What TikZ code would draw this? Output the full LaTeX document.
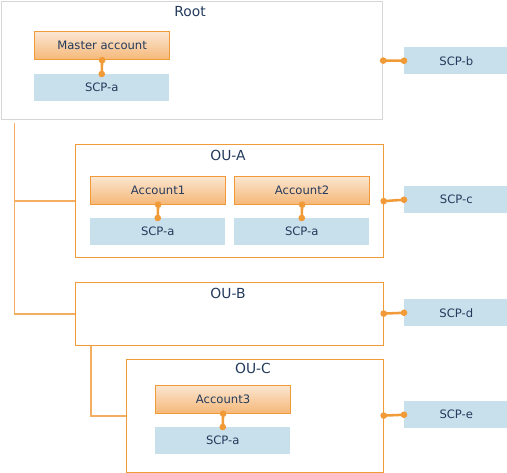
\documentclass[tikz,border=0pt]{standalone}
\usepackage{fontspec}
\setmainfont{DejaVu Sans}
\usetikzlibrary{calc}
\definecolor{og}{HTML}{F19B38}
\definecolor{ogtop}{HTML}{FBE6D2}
\definecolor{ogbot}{HTML}{F5B878}
\definecolor{scpblue}{HTML}{C8E0EC}
\definecolor{txt}{HTML}{233A5C}
\definecolor{graybd}{HTML}{D6D6D6}
\definecolor{treeog}{HTML}{F3AE62}
\tikzset{
  grp/.style={draw=og, line width=0.9pt, anchor=north west, inner sep=0pt},
  acct/.style={draw=og, line width=0.9pt, top color=ogtop, bottom color=ogbot, anchor=north west,
     minimum width=135*0.75pt, minimum height=28*0.75pt, inner sep=0pt, text=txt, font=\fontsize{8.7}{10}\selectfont},
  scp/.style={fill=scpblue, anchor=north west, minimum width=135*0.75pt, minimum height=27*0.75pt,
     inner sep=0pt, text=txt, font=\fontsize{8.7}{10}\selectfont},
  scpr/.style={scp, minimum width=104*0.75pt},
  ttl/.style={text=txt, font=\fontsize{10.4}{12}\selectfont, inner sep=0pt},
  link/.style={draw=og, line width=1.9pt},
  tree/.style={draw=treeog, line width=1.4pt},
  dot/.style={fill=og}
}
\begin{document}
\begin{tikzpicture}[x=0.75pt,y=-0.75pt]
\useasboundingbox (0,0) rectangle (507,472);
% groups
\node[grp, draw=graybd, minimum width=381*0.75pt, minimum height=118*0.75pt] (root) at (1,1) {};
\node[grp, minimum width=308*0.75pt, minimum height=113*0.75pt] (oua) at (74.5,144) {};
\node[grp, minimum width=308*0.75pt, minimum height=63*0.75pt] (oub) at (74.5,281.5) {};
\node[grp, minimum width=257*0.75pt, minimum height=113*0.75pt] (ouc) at (125.5,358.5) {};
% titles
\node[ttl] (troot) at (190,12) {Root};
\node[ttl] (toua) at (228,155) {OU-A};
\node[ttl] (toub) at (228,293) {OU-B};
\node[ttl] (touc) at (253,368) {OU-C};
% accounts
\node[acct] (master) at (34,31) {Master account};
\node[scp] (scpa0) at (34,74) {SCP-a};
\node[acct] (acc1) at (90,175.5) {Account1};
\node[scp] (scpa1) at (90,218) {SCP-a};
\node[acct] (acc2) at (234,175.5) {Account2};
\node[scp] (scpa2) at (234,218) {SCP-a};
\node[acct] (acc3) at (155,384.5) {Account3};
\node[scp] (scpa3) at (155,427) {SCP-a};
% right SCPs
\node[scpr] (scpb) at (404,47) {SCP-b};
\node[scpr] (scpc) at (404,186) {SCP-c};
\node[scpr] (scpd) at (404,299) {SCP-d};
\node[scpr] (scpe) at (404,401) {SCP-e};
% tree lines
\draw[tree] ($(root.south west)+(13.5,3)$) |- (oua.west);
\draw[tree] ($(root.south west)+(13.5,3)$) |- (oub.west);
\draw[tree] ($(oub.south west)+(16.5,0)$) |- (ouc.west);
% links
\foreach \a/\b in {master/scpa0, acc1/scpa1, acc2/scpa2, acc3/scpa3}{
  \draw[link] (\a.south) -- (\b.north);
  \fill[dot] (\a.south) circle[radius=2.5pt];
  \fill[dot] (\b.north) circle[radius=2.5pt];
}
\foreach \a/\b in {root/scpb, oua/scpc, oub/scpd, ouc/scpe}{
  \draw[link] (\a.east) -- (\b.west);
  \fill[dot] (\a.east) circle[radius=2.5pt];
  \fill[dot] (\b.west) circle[radius=2.5pt];
}
\end{tikzpicture}
\end{document}
